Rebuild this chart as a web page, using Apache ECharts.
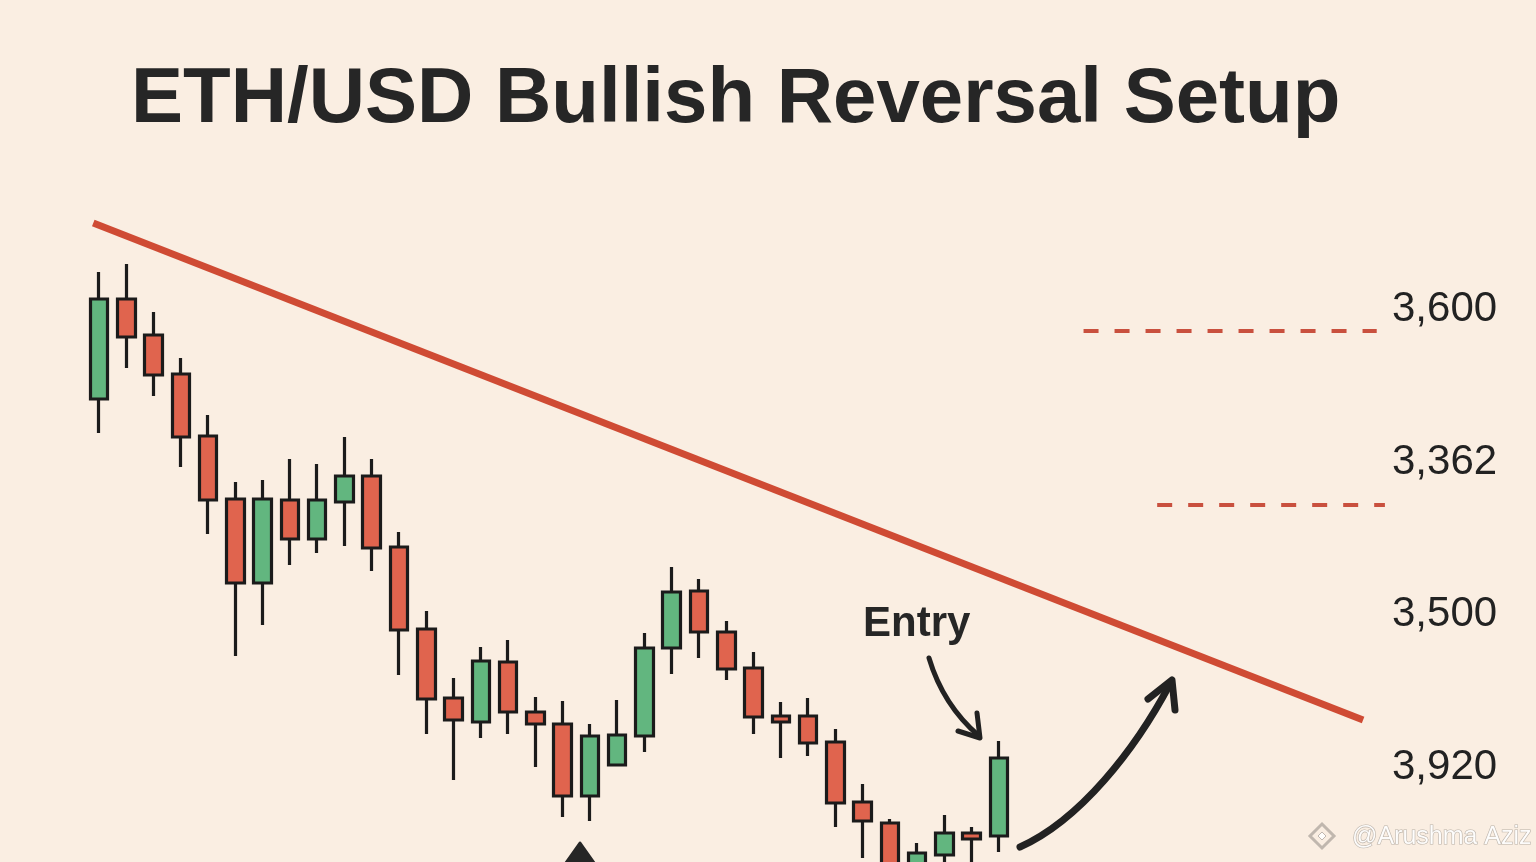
<!DOCTYPE html>
<html>
<head>
<meta charset="utf-8">
<script src="https://cdn.jsdelivr.net/npm/echarts@6/dist/echarts.min.js"></script>
<style>
html,body{margin:0;padding:0;background:#FAEEE2;}
#chart{width:1536px;height:862px;}
</style>
</head>
<body>
<div id="chart"></div>
<script>
// ---- data (prices) ----
const dayIndex = [0,1,2,3,4,5,6,7,8,9,10,11,12,13,14,15,16,17,18,19,20,21,22,23,24,25,26,27,28,29,30,31,32,33];
const opens  = [3463,3563,3527,3488,3426,3363,3279,3362,3323,3360,3386,3315,3233,3164,3140,3200,3150,3138,3066,3097,3126,3214,3271,3230,3194,3146,3146,3120,3060,3039,2982,3007,3029,3026];
const closes = [3563,3525,3487,3425,3362,3279,3363,3323,3362,3386,3314,3232,3163,3142,3201,3150,3138,3066,3126,3127,3214,3270,3230,3193,3145,3140,3119,3059,3041,2982,3009,3029,3023,3104];
const lows   = [3429,3494,3466,3395,3328,3206,3237,3297,3309,3316,3291,3187,3128,3082,3124,3128,3095,3045,3041,3097,3110,3188,3204,3182,3128,3104,3106,3035,3004,2965,2968,2990,2992,3010];
const highs  = [3590,3598,3550,3504,3447,3380,3382,3403,3398,3425,3403,3330,3251,3184,3215,3222,3165,3161,3138,3162,3229,3295,3283,3241,3210,3160,3164,3133,3078,3043,3019,3047,3035,3121];

// descending trendline (day, price)
const trendDays   = [-0.21, 46.35];
const trendPrices = [3639, 3142];

// dashed price levels
const levelUpperDays  = [36.1, 46.85];
const levelUpperPrice = 3531;
const levelLowerDays  = [38.8, 47.15];
const levelLowerPrice = 3357;

// right-hand price labels, bottom to top
const priceLabels = ['3,920', '3,500', '3,362', '3,600'];

const titleText = 'ETH/USD Bullish Reversal Setup';
const entryText = 'Entry';
const watermarkText = '@Arushma Aziz';

// ---- chart ----
const chart = echarts.init(document.getElementById('chart'), null, {renderer: 'canvas'});

const candleData = dayIndex.map((d, i) => [d, opens[i], closes[i], lows[i], highs[i]]);

const ink = '#1b1b1b';

const option = {
  backgroundColor: '#FAEEE2',
  animation: false,
  title: {
    text: titleText,
    left: 131,
    top: 61,
    padding: 0,
    textStyle: {
      fontFamily: '"Liberation Sans", Arial, sans-serif',
      fontWeight: 'bold',
      fontSize: 78,
      color: '#262626'
    }
  },
  grid: [
    {left: 85.364, right: 127.91, top: 212, bottom: 0},
    {left: 1380, width: 4, top: 232.9, height: 611.2}
  ],
  xAxis: [
    {type: 'value', gridIndex: 0, min: -0.5, max: 48, show: false},
    {type: 'value', gridIndex: 1, min: 0, max: 1, show: false}
  ],
  yAxis: [
    {type: 'value', gridIndex: 0, min: 3000, max: 3650, show: false},
    {
      type: 'category', gridIndex: 1, position: 'right', data: priceLabels,
      axisLine: {show: false}, axisTick: {show: false}, splitLine: {show: false},
      axisLabel: {
        margin: 8,
        fontFamily: '"Liberation Sans", Arial, sans-serif',
        fontSize: 42,
        color: '#222222'
      }
    }
  ],
  series: [
    {
      type: 'line',
      name: 'Trendline',
      xAxisIndex: 0, yAxisIndex: 0,
      data: trendDays.map((d, i) => [d, trendPrices[i]]),
      symbol: 'none',
      lineStyle: {color: '#CF4B34', width: 7},
      z: 2
    },
    {
      type: 'line',
      name: 'Upper level',
      data: levelUpperDays.map(d => [d, levelUpperPrice]),
      symbol: 'none',
      lineStyle: {color: '#C9503E', width: 4, type: [15, 16]},
      z: 2
    },
    {
      type: 'line',
      name: 'Lower level',
      data: levelLowerDays.map(d => [d, levelLowerPrice]),
      symbol: 'none',
      lineStyle: {color: '#C9503E', width: 4, type: [15, 16]},
      z: 2
    },
    {
      type: 'candlestick',
      name: 'ETH/USD',
      xAxisIndex: 0, yAxisIndex: 0,
      data: candleData,
      encode: {x: 0, y: [1, 2, 3, 4]},
      barWidth: 18,
      clip: false,
      itemStyle: {
        color: '#62B67F',
        color0: '#E0644E',
        borderColor: ink,
        borderColor0: ink,
        borderWidth: 3.2
      },
      z: 3
    }
  ],
  graphic: [
    {
      type: 'text', x: 863, y: 603, z: 10,
      style: {
        text: entryText,
        font: 'bold 42px "Liberation Sans", Arial, sans-serif',
        fill: '#262626',
        verticalAlign: 'top'
      }
    },
    {
      type: 'bezierCurve', z: 10,
      shape: {x1: 929, y1: 658, cpx1: 943, cpy1: 705, x2: 979, y2: 736},
      style: {stroke: '#222', lineWidth: 5, fill: null, lineCap: 'round'}
    },
    {
      type: 'polyline', z: 10,
      shape: {points: [[958, 731], [980, 738], [977, 713]]},
      style: {stroke: '#222', lineWidth: 5, fill: null, lineCap: 'round', lineJoin: 'round'}
    },
    {
      type: 'bezierCurve', z: 10,
      shape: {x1: 1020, y1: 847, cpx1: 1080, cpy1: 820, cpx2: 1135, cpy2: 750, x2: 1170, y2: 684},
      style: {stroke: '#222', lineWidth: 7, fill: null, lineCap: 'round'}
    },
    {
      type: 'polyline', z: 10,
      shape: {points: [[1148, 699], [1172, 680], [1175, 710]]},
      style: {stroke: '#222', lineWidth: 7, fill: null, lineCap: 'round', lineJoin: 'round'}
    },
    {
      type: 'polygon', z: 10,
      shape: {points: [[580, 843], [599, 870], [561, 870]]},
      style: {fill: '#262626', stroke: '#262626', lineWidth: 3, lineJoin: 'round'}
    },
    {
      type: 'group', z: 10,
      children: [
        {
          type: 'polygon',
          shape: {points: [[1322, 824], [1334, 836], [1322, 848], [1310, 836]]},
          style: {fill: null, stroke: 'rgba(185,176,168,0.9)', lineWidth: 3}
        },
        {
          type: 'polygon',
          shape: {points: [[1322, 832], [1326, 836], [1322, 840], [1318, 836]]},
          style: {fill: 'rgba(255,255,255,0.9)', stroke: 'rgba(185,176,168,0.9)', lineWidth: 1}
        },
        {
          type: 'text', x: 1352, y: 837,
          style: {
            text: watermarkText,
            font: '25px "Liberation Sans", Arial, sans-serif',
            fill: 'rgba(255,255,255,0.92)',
            stroke: 'rgba(170,162,154,0.8)',
            lineWidth: 1.2,
            verticalAlign: 'middle'
          }
        }
      ]
    }
  ]
};

chart.setOption(option);
</script>
</body>
</html>
